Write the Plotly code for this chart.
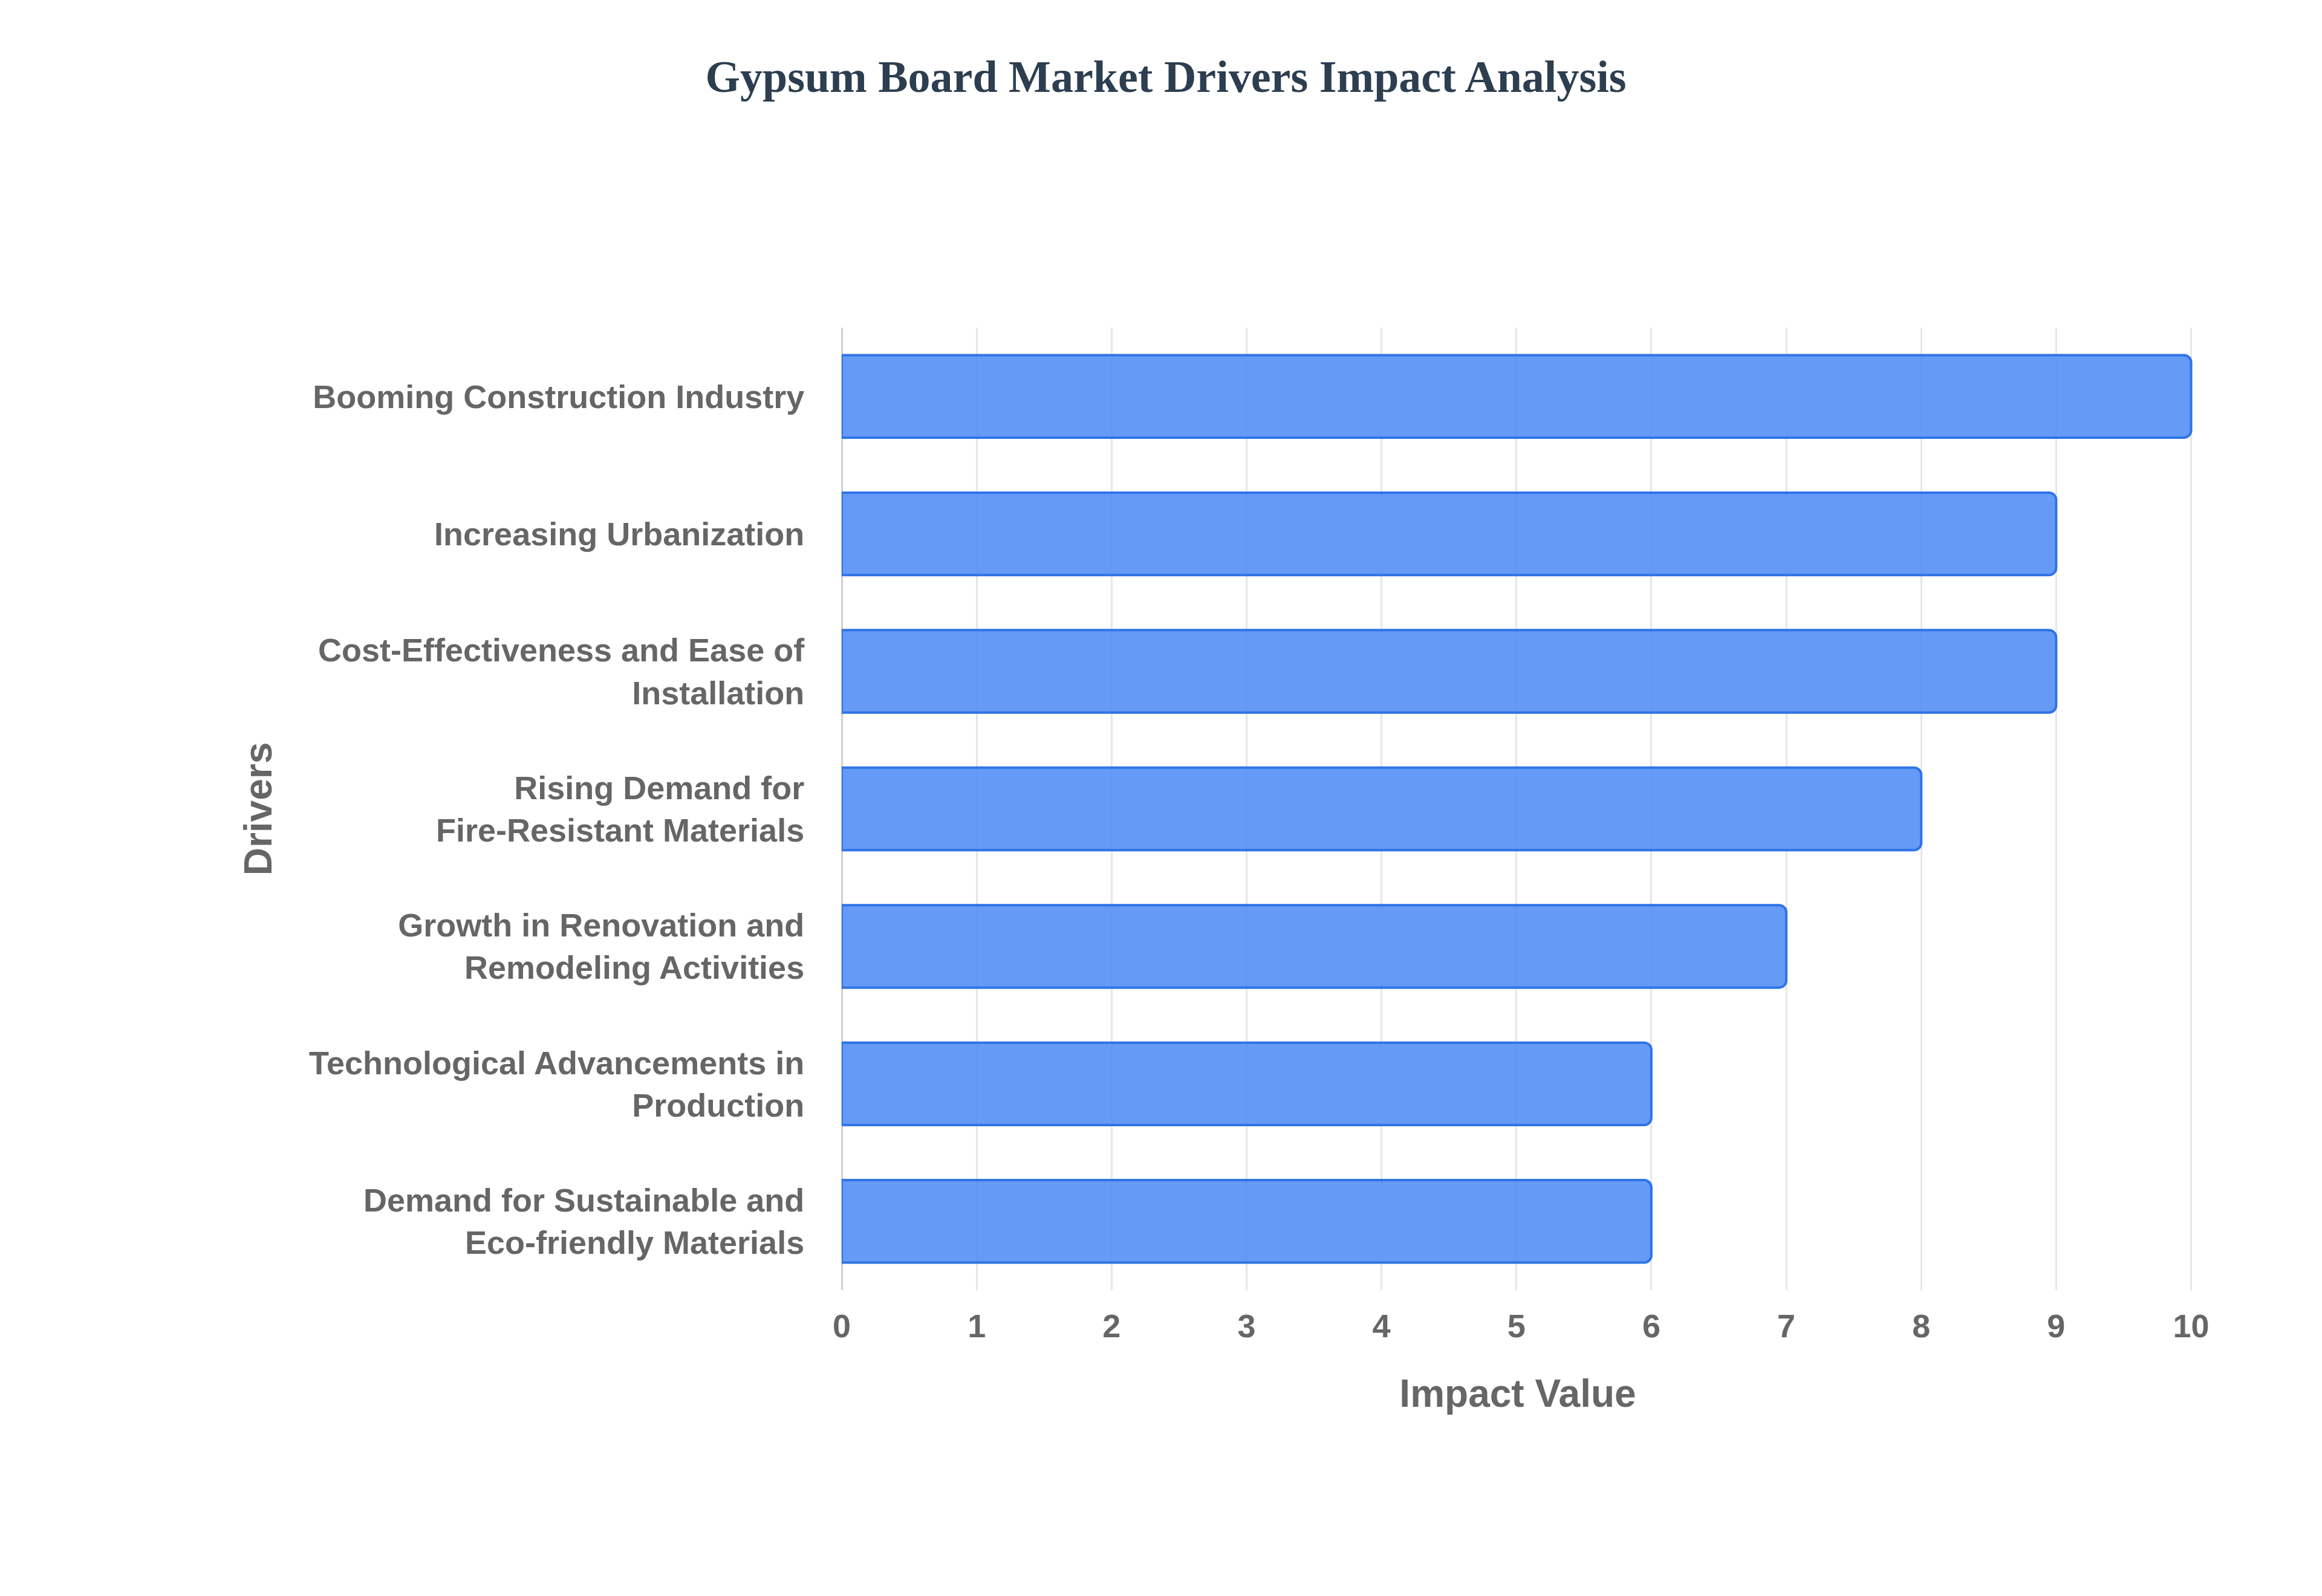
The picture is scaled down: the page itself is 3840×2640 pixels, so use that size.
import plotly.graph_objects as go

drivers = [
    "Demand for Sustainable and<br>Eco-friendly Materials",
    "Technological Advancements in<br>Production",
    "Growth in Renovation and<br>Remodeling Activities",
    "Rising Demand for<br>Fire-Resistant Materials",
    "Cost-Effectiveness and Ease of<br>Installation",
    "Increasing Urbanization",
    "Booming Construction Industry",
]
impact = [6, 6, 7, 8, 9, 9, 10]

fig = go.Figure(go.Bar(
    x=impact, y=drivers, orientation="h", width=0.6,
    marker=dict(color="rgba(80,140,245,0.88)", line=dict(color="#2f74e6", width=4), cornerradius=12),
))
fig.update_layout(
    width=3840, height=2640,
    paper_bgcolor="white", plot_bgcolor="white",
    margin=dict(l=1384, r=220, t=534, b=514),
    title=dict(text="<b>Gypsum Board Market Drivers Impact Analysis</b>", x=0.5, xanchor="center",
               y=0.965, yanchor="top",
               font=dict(family="Liberation Serif", size=74, color="#2c3e50")),
    showlegend=False,
    bargap=0.4,
)
fig.update_xaxes(range=[0, 10.02], dtick=1, showgrid=True, gridcolor="#e6e6e6", gridwidth=3,
                 zeroline=True, zerolinecolor="#d0d0d0", zerolinewidth=3,
                 tickfont=dict(family="Liberation Sans", size=54, color="#666", weight="bold"),
                 title=dict(text="Impact Value", standoff=60,
                            font=dict(family="Liberation Sans", size=64, color="#666", weight="bold")),
                 ticks="outside", ticklen=12, tickcolor="white")
fig.update_yaxes(showgrid=False, ticks="outside", ticklen=50, tickcolor="white",
                 tickfont=dict(family="Liberation Sans", size=54, color="#666", weight="bold"),
                 title=dict(text="Drivers", standoff=40,
                            font=dict(family="Liberation Sans", size=64, color="#666", weight="bold")))
fig.write_html("out.html")
